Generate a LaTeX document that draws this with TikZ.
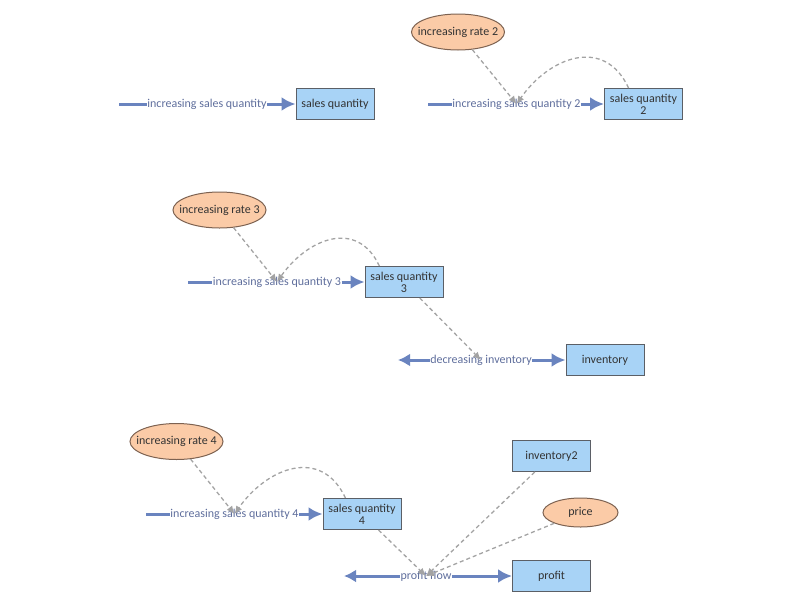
\documentclass[tikz,border=0pt]{standalone}
\usepackage{fontspec}
\setmainfont{Carlito}
\usetikzlibrary{shapes.geometric,arrows.meta}
\definecolor{stockfill}{HTML}{A8D3F6}
\definecolor{stockdraw}{HTML}{5B5F66}
\definecolor{auxfill}{HTML}{FBCBA7}
\definecolor{auxdraw}{HTML}{7D6251}
\definecolor{pipecol}{HTML}{6A84BF}
\definecolor{flowtext}{HTML}{5F6E9C}
\definecolor{linkcol}{HTML}{A3A3A3}
\newcommand{\auxtext}[1]{\makebox[0pt]{#1}}

\begin{document}
\begin{tikzpicture}[x=1pt,y=1pt,font=\fontsize{12}{12}\selectfont,
		stock/.style = {rectangle,draw=stockdraw,fill=stockfill,text=black!80,line width=1pt,
			minimum width=78pt,minimum height=31pt,inner sep=1pt,align=center},
		converter/.style = {ellipse,draw=auxdraw,fill=auxfill,text=black!80,line width=1pt,
			minimum width=93pt,minimum height=36pt,inner sep=0pt},
		flowname/.style = {text=flowtext,inner sep=0.5pt},
		pipe/.style = {draw=pipecol,line width=3pt},
		inflow/.style = {pipe,-{Latex[length=14pt,width=14pt]}},
		outflow/.style = {pipe,{Latex[length=12pt,width=13pt]}-},
		link/.style = {draw=linkcol,line width=1.3pt,dash pattern=on 4pt off 3pt,-{Latex[length=8pt,width=7pt]}}]
		
		\useasboundingbox (0,0) rectangle (800,-600);
		
		\node[stock] (s1) at (335,-104) {sales quantity};
		\node[flowname] (f1) at (207,-104) {increasing sales quantity};
		\coordinate (c1) at (119,-104);
		
		\node[converter] (r2) at (458,-32) {\auxtext{increasing rate 2}};
		\node[stock] (s2) at (643.5,-104) {sales quantity\\2};
		\node[flowname] (f2) at (516.5,-104) {increasing sales quantity 2};
		\coordinate (c2) at (428,-104);
		
		\node[converter] (r3) at (219.5,-210) {\auxtext{increasing rate 3}};
		\node[stock] (s3) at (404,-282) {sales quantity\\3};
		\node[flowname] (f3) at (277,-282) {increasing sales quantity 3};
		\coordinate (c3) at (188,-282);
		
		\node[stock] (inv) at (605,-360) {inventory};
		\node[flowname] (f4) at (481,-360) {decreasing inventory};
		\coordinate (c4) at (398,-360);
		
		\node[converter] (r4) at (176.5,-441.5) {\auxtext{increasing rate 4}};
		\node[stock] (s4) at (362,-514) {sales quantity\\4};
		\node[flowname] (f5) at (234.5,-514) {increasing sales quantity 4};
		\coordinate (c5) at (146,-514);
		
		\node[stock] (inv2) at (551.5,-456) {inventory2};
		\node[converter,minimum width=75pt,minimum height=29pt] (price) at (580.5,-512.5) {\auxtext{price}};
		\node[stock] (profit) at (551.5,-576) {profit};
		\node[flowname] (f6) at (426,-576) {profit flow};
		\coordinate (c6) at (344,-576);
		
		\draw[pipe] (c1)--(f1);
		\draw[inflow] (f1)--(s1);
		\draw[pipe] (c2)--(f2);
		\draw[inflow] (f2)--(s2);
		\draw[pipe] (c3)--(f3);
		\draw[inflow] (f3)--(s3);
		\draw[outflow] (c4)--(f4);
		\draw[inflow] (f4)--(inv);
		\draw[pipe] (c5)--(f5);
		\draw[inflow] (f5)--(s4);
		\draw[outflow] (c6)--(f6);
		\draw[inflow] (f6)--(profit);
		
		\draw[link] (r2)--(f2.center);
		\draw[link] (s2.133) to[out=115,in=55,looseness=1.3] (f2.center);
		\draw[link] (r3)--(f3.center);
		\draw[link] (s3.147) to[out=115,in=55,looseness=1.3] (f3.center);
		\draw[link] (s3)--(f4.center);
		\draw[link] (r4)--(f5.center);
		\draw[link] (s4.136) to[out=115,in=55,looseness=1.3] (f5.center);
		\draw[link] (s4)--(f6.center);
		\draw[link] (inv2)--(f6.center);
		\draw[link] (price)--(f6.center);
		\end{tikzpicture}
\end{document}
